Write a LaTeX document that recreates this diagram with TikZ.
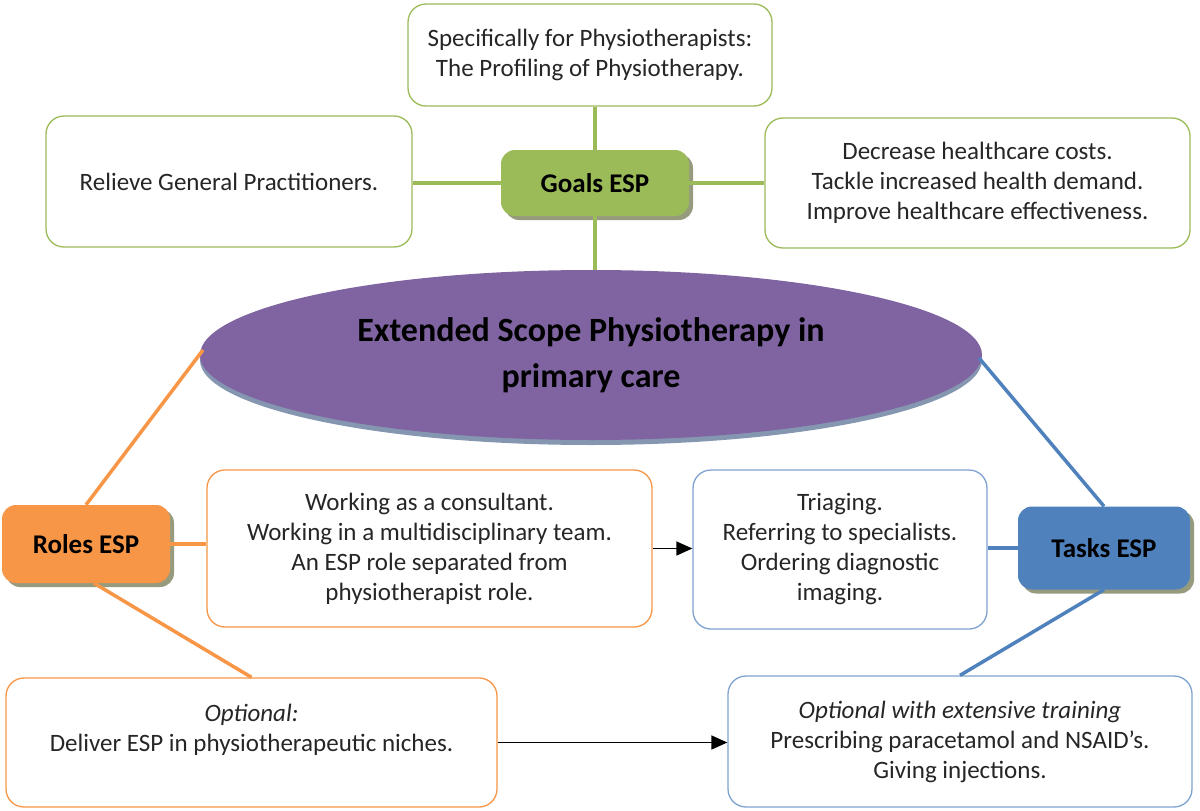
\documentclass[tikz,border=0pt]{standalone}
\usepackage{fontspec}
\setmainfont{Carlito}
\usetikzlibrary{shadows,arrows.meta,shapes.geometric,calc}
\definecolor{cgreen}{HTML}{9BBB59}
\definecolor{corange}{HTML}{F79646}
\definecolor{cblue}{HTML}{4F81BD}
\definecolor{cbluel}{HTML}{7EA3D0}
\definecolor{cpurple}{HTML}{8064A2}
\definecolor{ctext}{HTML}{262626}
\definecolor{cshadow}{HTML}{8C9070}
\definecolor{cellshadow}{HTML}{8496B0}
\begin{document}
\begin{tikzpicture}[x=1pt,y=-1pt,
  txtbox/.style={draw, line width=1.3pt, rounded corners=18pt, fill=white, align=center,
     font=\fontsize{25}{30}\selectfont, text=ctext, inner sep=0pt},
  gbox/.style={txtbox, draw=cgreen},
  obox/.style={txtbox, draw=corange},
  bbox/.style={txtbox, draw=cbluel},
  hub/.style={rounded corners=14pt, font=\bfseries\fontsize{27}{30}\selectfont, text=black,
     drop shadow={shadow xshift=4pt, shadow yshift=-4pt, fill=cshadow, opacity=0.9}},
  gline/.style={draw=cgreen, line width=3.5pt},
  oline/.style={draw=corange, line width=3.5pt},
  bline/.style={draw=cblue, line width=3.5pt},
  arr/.style={draw=black, line width=1.6pt, -{Triangle[length=16pt,width=14pt]}}
]
\useasboundingbox (0,0) rectangle (1200,811);

% top boxes
\node[gbox, minimum width=364pt, minimum height=102pt] (spec) at (590,55)
  {Specifically for Physiotherapists:\\The Profiling of Physiotherapy.};
\node[gbox, minimum width=366pt, minimum height=131pt] (relieve) at (229,181.5)
  {Relieve General Practitioners.};
\node[gbox, minimum width=425pt, minimum height=130pt] (decrease) at (977.5,183)
  {Decrease healthcare costs.\\Tackle increased health demand.\\Improve healthcare effectiveness.};

% free ends of the connectors on the ellipse rim
\coordinate (ellW) at (203,350);
\coordinate (ellE) at (979,358);

% central ellipse
\node[ellipse, fill=cpurple, minimum width=782pt, minimum height=170pt, inner sep=0pt,
  align=center, font=\bfseries\fontsize{34}{46}\selectfont, text=black,
  drop shadow={shadow xshift=0pt, shadow yshift=-5pt, fill=cellshadow, opacity=1}]
  (ell) at (591,355) {Extended Scope Physiotherapy in\\primary care};

% hubs
\node[hub, fill=cgreen, minimum width=188pt, minimum height=66pt] (goals) at (595,183) {Goals ESP};
\node[hub, fill=corange, minimum width=168pt, minimum height=78pt] (roles) at (86,544) {Roles ESP};
\node[hub, fill=cblue, minimum width=172pt, minimum height=83pt] (tasks) at (1104,548) {Tasks ESP};

% middle boxes
\node[obox, minimum width=445pt, minimum height=157pt] (rolesbox) at (429.5,548.5)
  {Working as a consultant.\\Working in a multidisciplinary team.\\An ESP role separated from\\physiotherapist role.};
\node[bbox, minimum width=294pt, minimum height=159pt] (tasksbox) at (840,549.5)
  {Triaging.\\Referring to specialists.\\Ordering diagnostic\\imaging.};

% bottom boxes
\node[obox, minimum width=491pt, minimum height=129pt] (optL) at (251.5,742.5)
  {\textit{Optional:}\\Deliver ESP in physiotherapeutic niches.\\\mbox{}};
\node[bbox, minimum width=464pt, minimum height=131pt] (optR) at (960,741.5)
  {\textit{Optional with extensive training}\\Prescribing paracetamol and NSAID's.\\Giving injections.};

% green connectors
\draw[gline] (goals.north) -- (goals.north |- spec.south);
\draw[gline] (goals.south) -- (goals.south |- ell.north);
\draw[gline] (goals.west) -- (goals.west -| relieve.east);
\draw[gline] (goals.east) -- (goals.east -| decrease.west);

% orange connectors
\draw[oline] (ellW) -- (roles.north);
\draw[oline] ($(roles.south)+(8,0)$) -- (optL.north);
\draw[oline] (roles.east) -- (roles.east -| rolesbox.west);

% blue connectors
\draw[bline] (ellE) -- (tasks.north);
\draw[bline] (tasks.south) -- (optR.north);
\draw[bline] (tasks.west) -- (tasks.west -| tasksbox.east);

% arrows
\draw[arr] (rolesbox.east) -- (rolesbox.east -| tasksbox.west);
\draw[arr] (optL.east) -- (optL.east -| optR.west);
\end{tikzpicture}
\end{document}
